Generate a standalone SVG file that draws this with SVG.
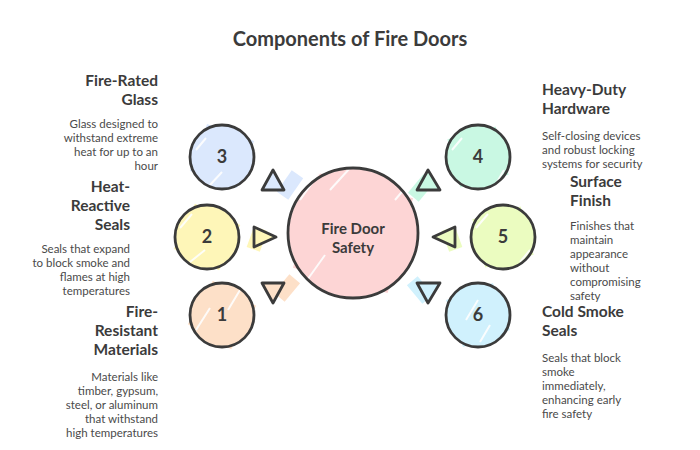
<svg xmlns="http://www.w3.org/2000/svg" width="700" height="450" viewBox="0 0 700 450">
<style>
.ttl{font-family:Lato,"Liberation Sans",sans-serif;font-weight:700;font-size:20px;fill:#3b3b3b}
.hd{font-family:Lato,"Liberation Sans",sans-serif;font-weight:700;font-size:15.5px;fill:#3b3b3b}
.ds{font-family:Lato,"Liberation Sans",sans-serif;font-size:11.5px;fill:#4a4a4a}
.num{font-family:Lato,"Liberation Sans",sans-serif;font-weight:700;font-size:18px;fill:#3b3b3b;text-anchor:middle}
.ctr{font-family:Lato,"Liberation Sans",sans-serif;font-weight:700;font-size:15px;fill:#3b3b3b;text-anchor:middle}
.ring{fill:none;stroke:#3b3b3b;stroke-width:2.8}
.tri{stroke:#3b3b3b;stroke-width:2.8;stroke-linejoin:round}
.streak{stroke:#ffffff;stroke-width:2;opacity:0.9}
.r{text-anchor:end}
</style>
<rect width="700" height="450" fill="#ffffff"/>
<text class="ttl" x="350" y="46" text-anchor="middle">Components of Fire Doors</text>

<g id="connectors">
<rect x="283" y="172" width="14" height="26" fill="#dbe8fd" transform="rotate(35 290 185)"/>
<polygon class="tri" points="262,190 284,190 273,170" fill="#dbe8fd"/>
<rect x="250" y="228" width="14" height="22" fill="#fef6b8" transform="rotate(20 257 239)"/>
<polygon class="tri" points="254,227 254,247 276,237" fill="#fef6b8"/>
<rect x="280" y="276" width="14" height="24" fill="#fde0c8" transform="rotate(40 287 288)"/>
<polygon class="tri" points="262,283 284,283 273,303" fill="#fde0c8"/>
<rect x="414" y="176" width="14" height="24" fill="#c9f8e3" transform="rotate(40 421 188)"/>
<polygon class="tri" points="417,190 440,190 428,170" fill="#c9f8e3"/>
<rect x="445" y="228" width="14" height="22" fill="#ebfcc0" transform="rotate(-20 452 239)"/>
<polygon class="tri" points="455,227 455,247 433,237" fill="#ebfcc0"/>
<rect x="413" y="278" width="14" height="24" fill="#d0f1fd" transform="rotate(-40 420 290)"/>
<polygon class="tri" points="417,283 440,283 428,303" fill="#d0f1fd"/>
</g>

<g id="center">
<rect x="304" y="184" width="98" height="98" fill="#fdd5d5" transform="rotate(15 353 233)"/>
<circle cx="353" cy="233" r="64" fill="#fdd5d5"/>
<line class="streak" x1="300" y1="200" x2="320" y2="172"/>
<line class="streak" x1="330" y1="190" x2="350" y2="168"/>
<line class="streak" x1="300" y1="290" x2="325" y2="255"/>
<line class="streak" x1="395" y1="200" x2="412" y2="180"/>
<circle class="ring" cx="353" cy="233" r="65"/>
<text class="ctr" x="353" y="234">Fire Door</text>
<text class="ctr" x="353" y="253">Safety</text>
</g>

<g id="node3">
<rect x="197" y="131" width="50" height="50" fill="#dbe8fd" transform="rotate(20 222 156)"/>
<circle cx="222" cy="157" r="32" fill="#dbe8fd"/>
<line class="streak" x1="196" y1="150" x2="206" y2="138"/>
<line class="streak" x1="210" y1="185" x2="222" y2="172"/>
<circle class="ring" cx="222" cy="157" r="32"/>
<text class="num" x="222" y="163">3</text>
</g>
<g id="node2">
<rect x="182" y="212" width="50" height="50" fill="#fef6b8" transform="rotate(25 207 237)"/>
<circle cx="207" cy="237" r="32" fill="#fef6b8"/>
<line class="streak" x1="180" y1="228" x2="192" y2="214"/>
<line class="streak" x1="190" y1="262" x2="205" y2="250"/>
<circle class="ring" cx="207" cy="237" r="32"/>
<text class="num" x="207" y="243">2</text>
</g>
<g id="node1">
<rect x="197" y="290" width="50" height="50" fill="#fde0c8" transform="rotate(30 222 315)"/>
<circle cx="222" cy="315" r="32" fill="#fde0c8"/>
<line class="streak" x1="196" y1="330" x2="210" y2="308"/>
<line class="streak" x1="228" y1="310" x2="240" y2="290"/>
<circle class="ring" cx="222" cy="315" r="32"/>
<text class="num" x="222" y="321">1</text>
</g>
<g id="node4">
<rect x="453" y="132" width="50" height="50" fill="#c9f8e3" transform="rotate(-15 478 157)"/>
<circle cx="478" cy="157" r="32" fill="#c9f8e3"/>
<line class="streak" x1="452" y1="150" x2="462" y2="138"/>
<line class="streak" x1="496" y1="184" x2="504" y2="170"/>
<circle class="ring" cx="478" cy="157" r="32"/>
<text class="num" x="478" y="163">4</text>
</g>
<g id="node5">
<rect x="478" y="212" width="50" height="50" fill="#ebfcc0" transform="rotate(-15 503 237)"/>
<circle cx="503" cy="237" r="32" fill="#ebfcc0"/>
<line class="streak" x1="476" y1="228" x2="488" y2="214"/>
<line class="streak" x1="520" y1="262" x2="530" y2="250"/>
<circle class="ring" cx="503" cy="237" r="32"/>
<text class="num" x="503" y="243">5</text>
</g>
<g id="node6">
<rect x="453" y="290" width="50" height="50" fill="#d0f1fd" transform="rotate(-20 478 315)"/>
<circle cx="478" cy="315" r="32" fill="#d0f1fd"/>
<line class="streak" x1="466" y1="320" x2="478" y2="300"/>
<line class="streak" x1="480" y1="342" x2="490" y2="325"/>
<circle class="ring" cx="478" cy="315" r="32"/>
<text class="num" x="478" y="321">6</text>
</g>

<g id="label3">
<text class="hd r" x="158" y="86">Fire-Rated</text>
<text class="hd r" x="158" y="105">Glass</text>
<text class="ds r" x="158" y="128">Glass designed to</text>
<text class="ds r" x="158" y="142">withstand extreme</text>
<text class="ds r" x="158" y="156">heat for up to an</text>
<text class="ds r" x="158" y="170">hour</text>
</g>
<g id="label2">
<text class="hd r" x="130" y="192">Heat-</text>
<text class="hd r" x="130" y="211">Reactive</text>
<text class="hd r" x="130" y="230">Seals</text>
<text class="ds r" x="130" y="253">Seals that expand</text>
<text class="ds r" x="130" y="267">to block smoke and</text>
<text class="ds r" x="130" y="281">flames at high</text>
<text class="ds r" x="130" y="295">temperatures</text>
</g>
<g id="label1">
<text class="hd r" x="158" y="317">Fire-</text>
<text class="hd r" x="158" y="336">Resistant</text>
<text class="hd r" x="158" y="355">Materials</text>
<text class="ds r" x="158" y="381">Materials like</text>
<text class="ds r" x="158" y="395">timber, gypsum,</text>
<text class="ds r" x="158" y="409">steel, or aluminum</text>
<text class="ds r" x="158" y="423">that withstand</text>
<text class="ds r" x="158" y="437">high temperatures</text>
</g>
<g id="label4">
<text class="hd" x="542" y="95">Heavy-Duty</text>
<text class="hd" x="542" y="114">Hardware</text>
<text class="ds" x="542" y="140">Self-closing devices</text>
<text class="ds" x="542" y="154">and robust locking</text>
<text class="ds" x="542" y="168">systems for security</text>
</g>
<g id="label5">
<text class="hd" x="570" y="187">Surface</text>
<text class="hd" x="570" y="206">Finish</text>
<text class="ds" x="570" y="230">Finishes that</text>
<text class="ds" x="570" y="244">maintain</text>
<text class="ds" x="570" y="258">appearance</text>
<text class="ds" x="570" y="272">without</text>
<text class="ds" x="570" y="286">compromising</text>
<text class="ds" x="570" y="300">safety</text>
</g>
<g id="label6">
<text class="hd" x="542" y="317">Cold Smoke</text>
<text class="hd" x="542" y="336">Seals</text>
<text class="ds" x="542" y="362">Seals that block</text>
<text class="ds" x="542" y="376">smoke</text>
<text class="ds" x="542" y="390">immediately,</text>
<text class="ds" x="542" y="404">enhancing early</text>
<text class="ds" x="542" y="418">fire safety</text>
</g>
</svg>
